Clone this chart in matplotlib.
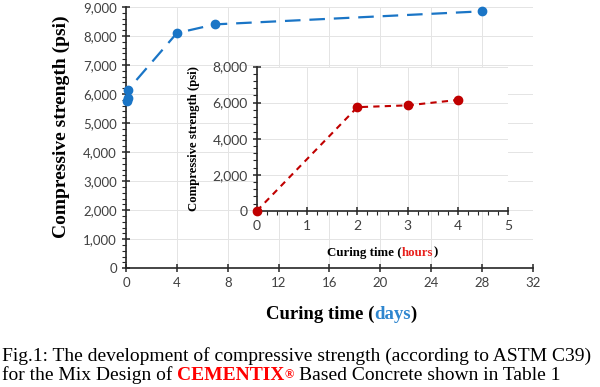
import matplotlib.pyplot as plt
from matplotlib.ticker import MultipleLocator, FuncFormatter

# main chart: curing time in days
days = [2 / 24, 3 / 24, 4 / 24, 4, 7, 28]
strength_days = [5750, 5850, 6150, 8100, 8400, 8850]

# inset chart: curing time in hours
hours = [0, 2, 3, 4]
strength_hours = [0, 5750, 5850, 6150]

blue = '#1a75c6'
red = '#c00000'
tick_col = '#404040'
grid_col = '#e4e4e4'

fig = plt.figure(figsize=(6, 3.87), dpi=100)

thousands = FuncFormatter(lambda v, p: '{:,.0f}'.format(v))


def style_axes(ax, fs):
    for s in ['top', 'right']:
        ax.spines[s].set_visible(False)
    for s in ['left', 'bottom']:
        ax.spines[s].set_color('#262626')
        ax.spines[s].set_linewidth(1.2)
    ax.grid(True, which='major', color=grid_col, linewidth=0.7)
    ax.set_axisbelow(True)
    ax.tick_params(which='major', direction='inout', length=6, width=1.1,
                   color='#262626', labelsize=fs, labelcolor=tick_col)
    ax.tick_params(which='minor', direction='out', length=3, width=0.8,
                   color='#262626')
    for lab in ax.get_xticklabels() + ax.get_yticklabels():
        lab.set_family('Lato')


# ---- main axes ----
ax = fig.add_axes([0.21, 0.307, 0.678, 0.675])
ax.plot(days, strength_days, color=blue, linestyle=(0, (7, 4)), linewidth=1.6,
        marker='o', markersize=6, clip_on=False, zorder=3)
ax.set_xlim(0, 32)
ax.set_ylim(0, 9000)
ax.xaxis.set_major_locator(MultipleLocator(4))
ax.yaxis.set_major_locator(MultipleLocator(1000))
ax.yaxis.set_minor_locator(MultipleLocator(200))
ax.yaxis.set_major_formatter(thousands)
style_axes(ax, 9.5)
ax.set_ylabel('Compressive strength (psi)', family='Liberation Serif',
              fontweight='bold', fontsize=14)
ax.yaxis.set_label_coords(-0.137, 0.54)

# x label with coloured unit
t1 = fig.text(0.443, 0.166, 'Curing time (', family='Liberation Serif',
              fontweight='bold', fontsize=13.5, va='bottom')
t2 = ax.annotate('days', xy=(1, 0), xycoords=t1, va='bottom', ha='left',
                 family='Liberation Serif', fontweight='bold', fontsize=13.5,
                 color='#2f86cf')
ax.annotate(')', xy=(1, 0), xycoords=t2, va='bottom', ha='left',
            family='Liberation Serif', fontweight='bold', fontsize=13.5)

# ---- inset axes ----
ins = fig.add_axes([0.428, 0.455, 0.419, 0.373])
ins.set_facecolor('white')
ins.plot(hours, strength_hours, color=red, linestyle=(0, (3, 2.5)), linewidth=1.5,
         marker='o', markersize=6, clip_on=False, zorder=3)
ins.set_xlim(0, 5)
ins.set_ylim(0, 8000)
ins.xaxis.set_major_locator(MultipleLocator(1))
ins.xaxis.set_minor_locator(MultipleLocator(0.2))
ins.yaxis.set_major_locator(MultipleLocator(2000))
ins.yaxis.set_minor_locator(MultipleLocator(400))
ins.yaxis.set_major_formatter(thousands)
style_axes(ins, 10)
ins.set_ylabel('Compressive strength (psi)', family='Liberation Serif',
               fontweight='bold', fontsize=9.2, labelpad=9)

h1 = fig.text(0.545, 0.332, 'Curing time (', family='Liberation Serif',
              fontweight='bold', fontsize=9.3, va='bottom')
h2 = ins.annotate('hours', xy=(1, 0), xycoords=h1, va='bottom', ha='left',
                  family='Liberation Serif', fontweight='bold', fontsize=9.3,
                  color='#e8201c')
ins.annotate(')', xy=(1, 0), xycoords=h2, va='bottom', ha='left',
             family='Liberation Serif', fontweight='bold', fontsize=9.3)

# ---- caption ----
cap = dict(family='Liberation Serif', fontsize=14, va='bottom')
fig.text(0.003, 0.057, 'Fig.1: The development of compressive strength '
         '(according to ASTM C39)', **cap)
c1 = fig.text(0.003, 0.008, 'for the Mix Design of ', **cap)
c2 = ax.annotate('CEMENTIX', xy=(1, 0), xycoords=c1, ha='left', color='#ff0000',
                 fontweight='bold', family='Liberation Serif', fontsize=14,
                 va='bottom')
c3 = ax.annotate('®', xy=(1, 1), xycoords=c2, xytext=(0, -1.5),
                 textcoords='offset points', ha='left', va='top',
                 color='#ff0000', fontweight='bold', family='Liberation Serif',
                 fontsize=9)
ax.annotate('Based Concrete shown in Table 1', xy=(1, 0), xycoords=(c3, c2),
            xytext=(4, 0), textcoords='offset points', ha='left', va='bottom',
            family='Liberation Serif', fontsize=14)

fig.savefig('out.png', dpi=100)
